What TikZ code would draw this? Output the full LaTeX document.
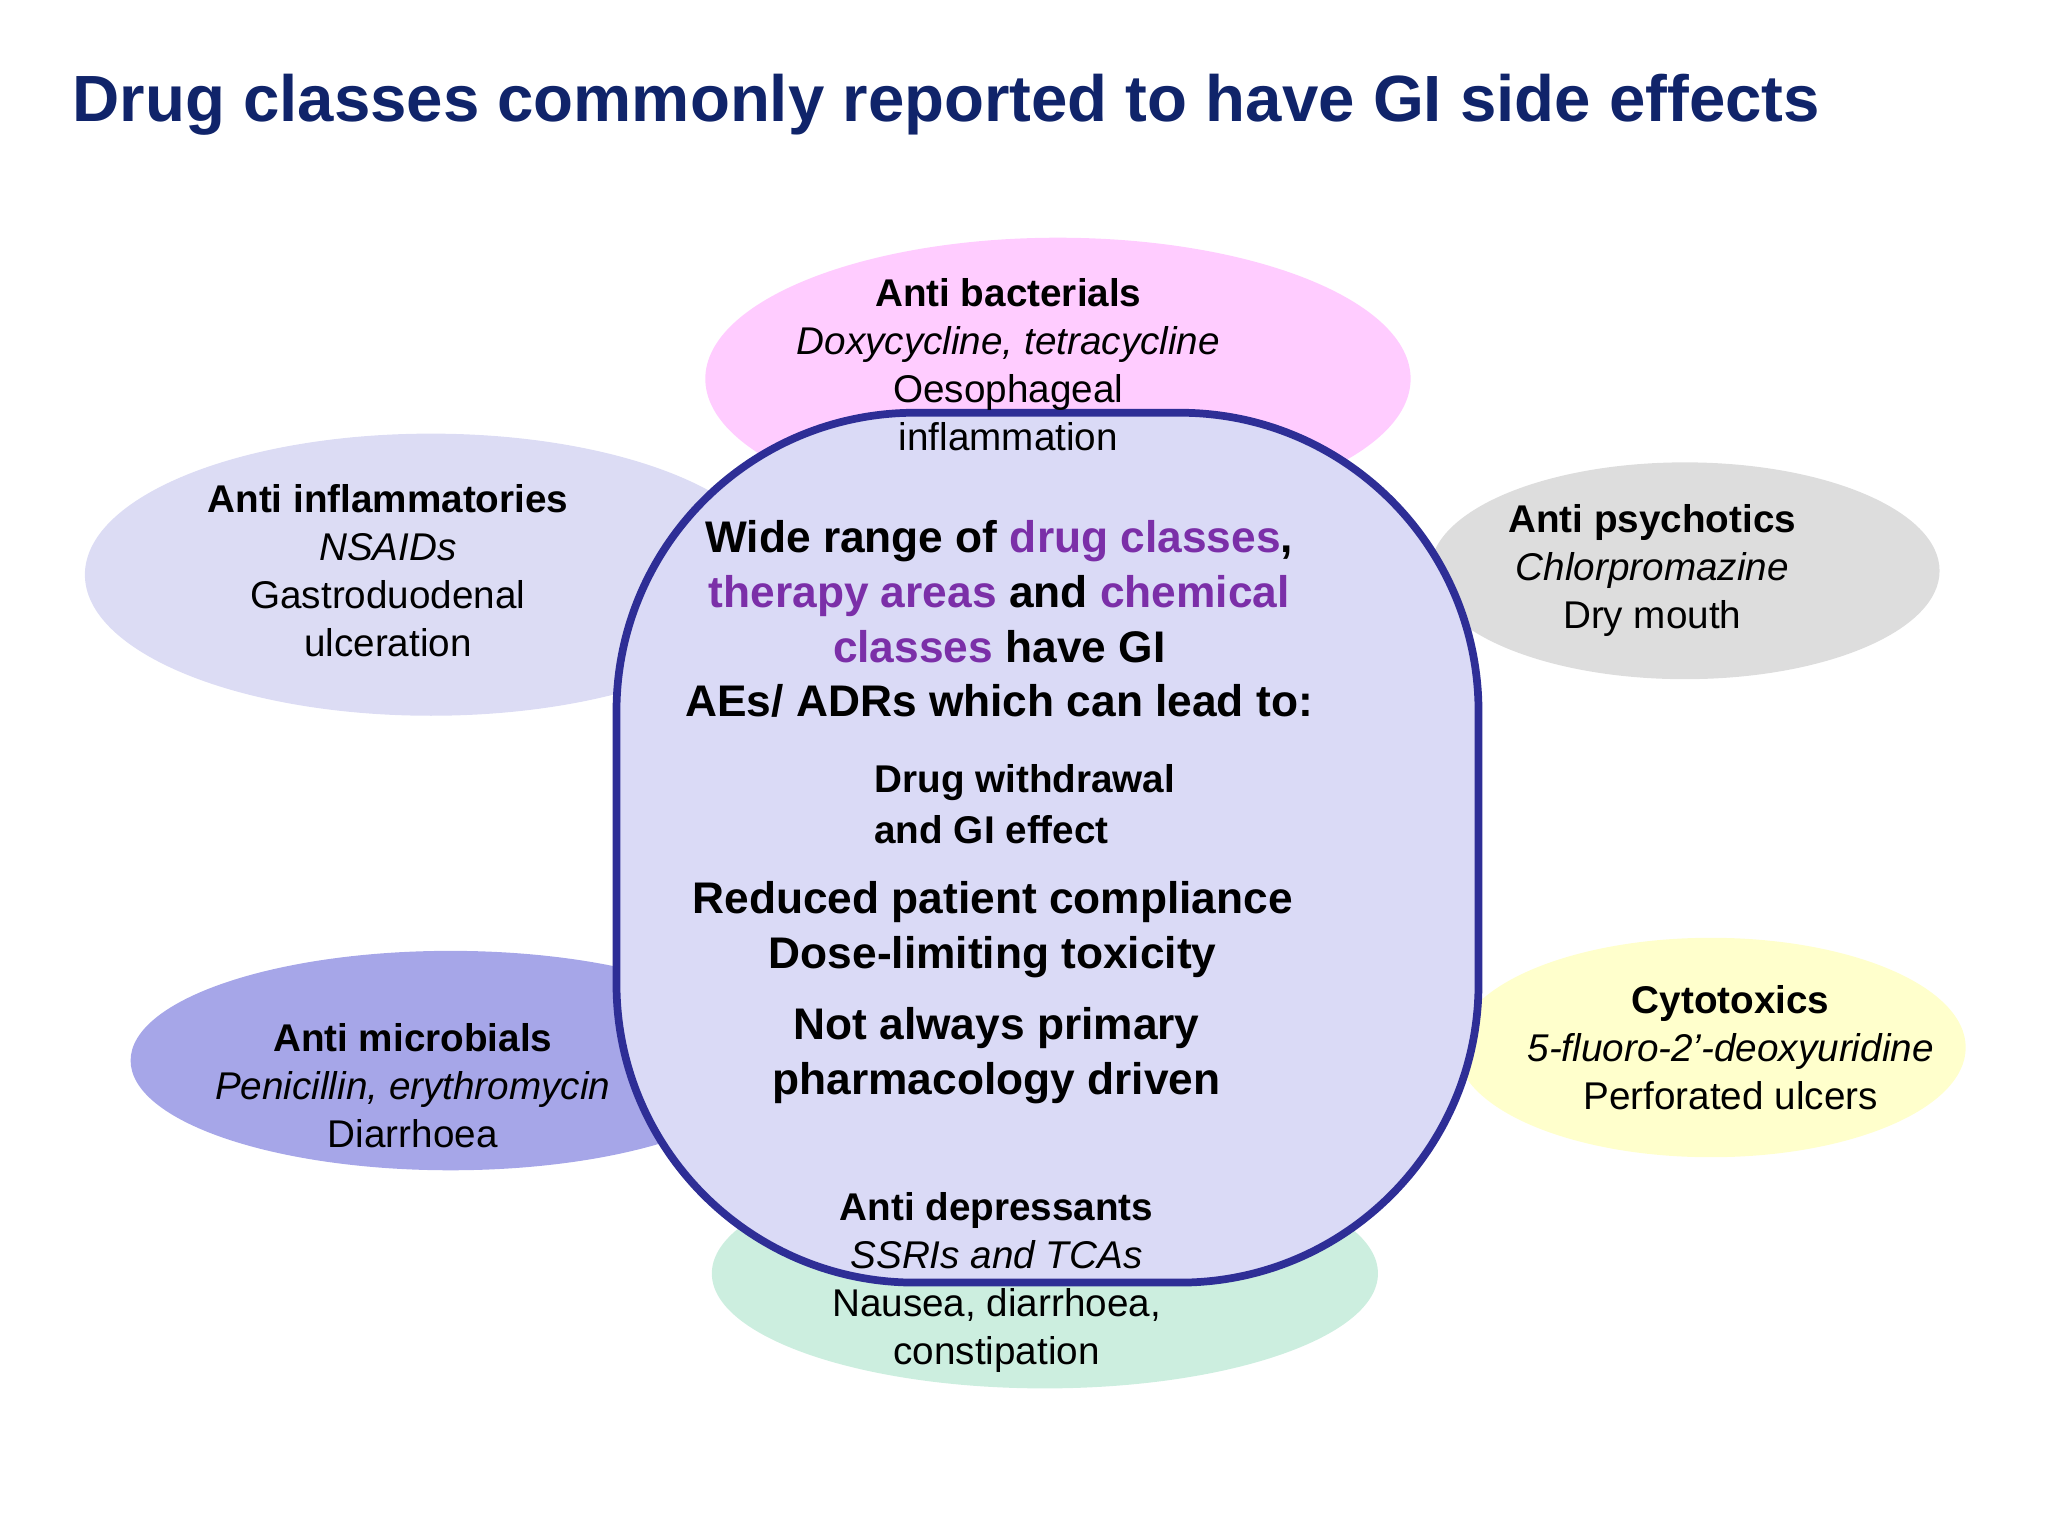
\documentclass[tikz,border=0pt]{standalone}
\usepackage{fontspec}
\setmainfont{Liberation Sans}
\definecolor{navy}{HTML}{10246A}
\definecolor{purp}{HTML}{7B2FA8}
\definecolor{pinkE}{HTML}{FFCCFF}
\definecolor{lavE}{HTML}{DCDCF4}
\definecolor{grayE}{HTML}{DDDDDD}
\definecolor{blueE}{HTML}{A6A6E8}
\definecolor{yelE}{HTML}{FFFFCC}
\definecolor{greenE}{HTML}{CCEEDF}
\definecolor{boxF}{HTML}{DADAF6}
\definecolor{boxD}{HTML}{2E2E96}
\begin{document}
\begin{tikzpicture}[x=0.01306cm,y=-0.01306cm,
  blob/.style={ellipse, draw=none, fill=#1},
  lbl/.style={align=center, font=\fontsize{11pt}{13.7pt}\selectfont, inner sep=0pt},
  big/.style={align=center, font=\fontsize{12.6pt}{15.6pt}\selectfont\bfseries, inner sep=0pt}]
\useasboundingbox (0,0) rectangle (1568,1176);
% ellipses
\fill[pinkE] (810,290) ellipse (270 and 108);
\fill[lavE] (330,440) ellipse (265 and 108);
\fill[grayE] (1290,437) ellipse (195 and 83);
\fill[blueE] (345,812) ellipse (245 and 84);
\fill[yelE] (1310,802) ellipse (195 and 84);
\fill[greenE] (800,975) ellipse (255 and 88);
% centre box
\draw[boxD, line width=2.2pt, fill=boxF, rounded corners=85] (472,316) rectangle (1132,982);
% title
\node[anchor=west, text=navy, font=\fontsize{18.6pt}{22pt}\selectfont\bfseries, inner sep=0pt] (title) at (55,80) {Drug classes commonly reported to have GI side effects};
% ellipse labels
\node[lbl] (bact) at (772,279) {\textbf{Anti bacterials}\\\textit{Doxycycline, tetracycline}\\Oesophageal\\inflammation};
\node[lbl] (infl) at (297,437) {\textbf{Anti inflammatories}\\\textit{NSAIDs}\\Gastroduodenal\\ulceration};
\node[lbl] (psych) at (1265,437) {\textbf{Anti psychotics}\\\textit{Chlorpromazine}\\Dry mouth};
\node[lbl] (micro) at (316,831) {\textbf{Anti microbials}\\\textit{Penicillin, erythromycin}\\Diarrhoea};
\node[lbl] (cyto) at (1325,802) {\textbf{Cytotoxics}\\\textit{5-fluoro-2’-deoxyuridine}\\Perforated ulcers};
\node[lbl] (depr) at (763,982) {\textbf{Anti depressants}\\\textit{SSRIs and TCAs}\\Nausea, diarrhoea,\\constipation};
% centre text
\node[big] (wide) at (765,474) {Wide range of \textcolor{purp}{drug classes},\\\textcolor{purp}{therapy areas} and \textcolor{purp}{chemical}\\\textcolor{purp}{classes} have GI\\AEs/ ADRs which can lead to:};
\node[align=left, anchor=west, font=\fontsize{11pt}{14.5pt}\selectfont\bfseries, inner sep=0pt] (withd) at (669,616) {Drug withdrawal\\and GI effect};
\node[big] (reduc) at (760,712) {Reduced patient compliance\\Dose-limiting toxicity};
\node[big] (notal) at (763,808) {Not always primary\\pharmacology driven};
\end{tikzpicture}
\end{document}
